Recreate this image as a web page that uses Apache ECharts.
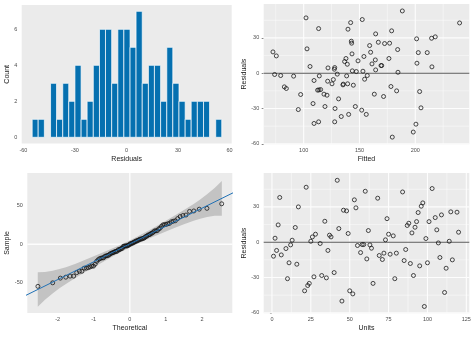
<!DOCTYPE html>
<html><head><meta charset="utf-8">
<script src="https://cdn.jsdelivr.net/npm/echarts@6/dist/echarts.min.js"></script>
<style>html,body{margin:0;padding:0;background:#fff}#c{width:474px;height:338px}</style>
</head><body><div id="c"></div>
<script>
// ---------- data ----------
const histBinEdges = [-54.9,-51.4,-47.8,-44.2,-40.7,-37.1,-33.6,-30.0,-26.4,-22.9,-19.3,-15.7,-12.2,-8.6,-5.0,-1.5,2.1,5.6,9.2,12.8,16.3,19.9,23.5,27.0,30.6,34.2,37.7,41.3,44.9,48.4,52.0,55.5];
const histCounts = [1,1,0,3,1,3,2,4,1,2,4,6,6,3,6,6,5,7,3,4,4,2,5,3,2,1,2,2,2,0,1];

const fittedX = [72.5,74,75.5,79.4,82.7,84.5,91,95.2,97.3,102.1,103,105.7,108.4,109.3,109.3,113.4,112.5,113.7,115.2,113.4,114,118.2,119.1,120.9,121.5,121.8,125.4,126.6,127.5,127.8,128.1,127.8,130.1,131.3,133.7,135.2,135.5,136.7,137.9,138.5,139.1,139.7,139.4,140.3,142.1,142.7,143,143.3,143.6,144.5,146.3,147.2,148.7,152,152.5,153.1,154,154.6,156.1,157,159.1,160,161.2,163.3,164.2,164.5,164.5,166.9,169.3,169.9,171.6,172.5,176.4,177,178.2,178.8,179.4,183.3,184.2,184.5,188.4,198.2,200.6,201.2,201.5,202.7,203.9,205.1,210.7,214.6,214.9,217.9,239.7];
const fittedResid = [18.1,-1.1,14.7,-2,-11.6,-13,-2.5,-30.9,-18.1,47,20.7,5.7,-25.8,-6.2,-42.7,37.9,-14.4,-14.2,-13.9,-41.3,-2.3,-17.8,-28.3,-18.7,-6.8,4.5,-9,-5.4,3.4,4.8,-30,-41.3,-0.8,-21.8,-36.8,-9.9,-9.3,9.9,12.5,-2.3,7.6,37.4,-9,-35,43,27.2,25.5,16.4,2,-10.2,-28.3,1.4,10.5,-31.4,45.6,1.7,14.2,-5.1,-35,-2,23.5,17.8,7.9,-17.8,11.3,33.4,2.8,26.3,6.5,6.5,-19.8,25.2,12.5,25.5,-11.3,36,-54.3,-15,20.1,0.8,52.9,-50,-43.3,29.2,8.5,17.5,-15.6,-29.4,17.5,29.7,5.4,30.9,42.7];

const units = [1,2,3,4,5,6,9,10,11,12,13,15,16,17,21,22,23,24,25,26,27,28,31,32,34,35,36,37,38,40,42,43,45,46,48,49,50,52,53,54,55,57,58,59,60,61,62,63,64,65,68,69,71,72,73,74,75,76,78,79,80,84,85,86,87,88,89,90,91,92,93,94,95,96,97,98,99,100,101,103,105,106,107,108,109,111,112,114,115,116,119,120];
const unitResid = [-11.9,3.4,-7,14.7,38,-10.8,-5.4,-31,-17.5,-2.3,1.7,12.5,-18.7,30,-41.3,46.7,-36.8,-35,0.8,4.5,-29.4,6.8,-1.1,-28.3,17.8,-30.3,-7,6,4.5,-25.8,52.6,11.6,-50,27.2,26.6,7.4,-41.3,-43.9,36,29.2,-2.8,-8.8,-2,-2,43.3,-14.2,9.9,-2.3,-5.1,-35,37.4,-11.3,-14.7,-9.3,2,20,6.8,-10.2,5.4,-31,-9.3,42.7,-15.6,-6.2,14.2,16.1,-18.1,7.9,-28.3,12.7,17.5,25.2,-20.1,30.6,33.4,-54.6,3.1,-17.5,17.5,45.6,20.9,10.5,-0.6,-13,23.2,-42.7,-22.1,0.8,25.8,-15,25.5,8.5];

const qqTheoretical = [-2.546,-2.137,-1.924,-1.774,-1.655,-1.556,-1.471,-1.395,-1.327,-1.263,-1.205,-1.150,-1.099,-1.051,-1.005,-0.960,-0.918,-0.877,-0.838,-0.800,-0.763,-0.727,-0.692,-0.657,-0.624,-0.591,-0.559,-0.528,-0.496,-0.466,-0.436,-0.406,-0.377,-0.347,-0.319,-0.290,-0.262,-0.234,-0.206,-0.178,-0.151,-0.123,-0.096,-0.068,-0.041,-0.014,
  0.014,0.041,0.068,0.096,0.123,0.151,0.178,0.206,0.234,0.262,0.290,0.319,0.347,0.377,0.406,0.436,0.466,0.496,0.528,0.559,0.591,0.624,0.657,0.692,0.727,0.763,0.800,0.838,0.877,0.918,0.960,1.005,1.051,1.099,1.150,1.205,1.263,1.327,1.395,1.471,1.556,1.655,1.774,1.924,2.137,2.546];
const qqSample = unitResid.slice().sort((a, b) => a - b);
const qqBandX = [-2.55,-2.35,-2.14,-1.95,-1.77,-1.5,-1.2,-0.9,-0.6,-0.3,0,0.3,0.6,0.9,1.2,1.5,1.77,1.95,2.14,2.35,2.55];
const qqBandLower = [-81.2,-72.0,-64.0,-57.2,-51.5,-43.4,-35.1,-27.1,-19.0,-11.4,-4.1,2.6,8.8,14.7,20.5,26.2,30.7,33.2,35.4,37.0,37.2];
const qqBandUpper = [-36.2,-36.0,-34.4,-32.2,-29.7,-25.2,-19.5,-13.7,-7.8,-1.6,5.1,12.4,20.0,28.1,36.1,44.4,52.5,58.2,65.0,73.0,82.2];
const qqLineX = [-3, 3];
const qqLineY = [-69.1, 70.1];

const histXTicks = [-60,-30,0,30,60];
const histYTicks = [0,2,4,6];
const residTicks = [-60,-30,0,30];
const residMinor = [-45,-15,15,45];
const fittedTicks = [100,150,200];
const fittedMinor = [75,125,175,225];
const qqXTicks = [-2,-1,0,1,2];
const qqYTicks = [-50,0,50];
const unitTicks = [0,25,50,75,100,125];
const unitMinor = [12.5,37.5,62.5,87.5,112.5];

// ---------- styling / layout ----------
const FONT = '"Liberation Sans", Arial, Helvetica, sans-serif';
const PANEL_BG = '#EBEBEB';
const GRIDLINE = '#fdfdfd';
// axis limits [xmin, xmax, ymin, ymax] per panel
const LIM = [
  [-61, 61.3, -0.35, 7.35],
  [64.2, 248.4, -60.4, 58.8],
  [-2.84, 2.84, -89.2, 92.6],
  [-5.3, 126.9, -60.4, 58.8]
];

function grid(left, top, width, height) {
  return {left, top, width, height, show: false, containLabel: false};
}
function axis(gi, isY, ticks, name, nameGap) {
  const L = LIM[gi];
  return {
    type: 'value', gridIndex: gi, min: isY ? L[2] : L[0], max: isY ? L[3] : L[1],
    name, nameLocation: 'middle', nameGap,
    nameTextStyle: {fontSize: 7, color: '#1a1a1a', fontFamily: FONT},
    axisLine: {show: false},
    axisTick: {show: true, length: 2, customValues: ticks, lineStyle: {color: '#333', width: 0.6}},
    axisLabel: {fontSize: 5.5, color: '#4d4d4d', fontFamily: FONT, margin: isY ? 4.5 : 3.5, customValues: ticks},
    splitLine: {show: false}, minorSplitLine: {show: false}
  };
}
// panel background drawn as a series, lowest layer
function panelBg(gi) {
  return {
    type: 'custom', xAxisIndex: gi, yAxisIndex: gi, z: 1, silent: true,
    data: [[LIM[gi][0], LIM[gi][2]]], encode: {x: 0, y: 1},
    renderItem: (params) => {
      const cs = params.coordSys;
      return {type: 'rect', shape: {x: cs.x, y: cs.y, width: cs.width, height: cs.height}, style: {fill: PANEL_BG}};
    }
  };
}
// one line series per reference/grid line
function refLines(gi, values, dir, color, width, z) {
  const L = LIM[gi];
  return values.map(v => ({
    type: 'line', xAxisIndex: gi, yAxisIndex: gi, z, silent: true, clip: true,
    showSymbol: false, symbol: 'none',
    data: dir === 'v' ? [[v, L[2]], [v, L[3]]] : [[L[0], v], [L[1], v]],
    lineStyle: {color, width, opacity: 1}
  }));
}
function points(gi, xs, ys) {
  return {
    type: 'scatter', xAxisIndex: gi, yAxisIndex: gi, z: 20, silent: true,
    data: xs.map((x, i) => [x, ys[i]]),
    symbol: 'circle', symbolSize: 4,
    itemStyle: {color: 'rgba(0,0,0,0)', borderColor: '#111', borderWidth: 0.95}
  };
}

const series = [panelBg(0), panelBg(1), panelBg(2), panelBg(3)];
// histogram
series.push({
  type: 'custom', xAxisIndex: 0, yAxisIndex: 0, z: 12, silent: true,
  data: histCounts.map((c, i) => [histBinEdges[i], histBinEdges[i + 1], c]),
  encode: {x: [0, 1], y: 2},
  renderItem: (params, api) => {
    const c = api.value(2);
    if (!c) return null;
    const p0 = api.coord([api.value(0), c]);
    const p1 = api.coord([api.value(1), 0]);
    return {type: 'rect', shape: {x: p0[0], y: p0[1], width: p1[0] - p0[0], height: p1[1] - p0[1]},
      style: {fill: '#0570B0', stroke: '#ffffff', lineWidth: 0.7}};
  }
});
// fitted panel
series.push(...refLines(1, fittedMinor, 'v', GRIDLINE, 0.5, 10));
series.push(...refLines(1, residMinor, 'h', GRIDLINE, 0.5, 10));
series.push(...refLines(1, fittedTicks, 'v', GRIDLINE, 1.1, 11));
series.push(...refLines(1, residTicks, 'h', GRIDLINE, 1.1, 11));
series.push(...refLines(1, [0], 'h', '#595959', 1.1, 12));
series.push(points(1, fittedX, fittedResid));
// qq panel
series.push(...refLines(2, [0], 'v', GRIDLINE, 1.4, 10));
series.push(...refLines(2, [0], 'h', GRIDLINE, 1.4, 10));
series.push({
  type: 'custom', xAxisIndex: 2, yAxisIndex: 2, z: 12, silent: true,
  data: [[0, 0]], encode: {x: 0, y: 1},
  renderItem: (params, api) => {
    const pts = [];
    qqBandX.forEach((x, i) => pts.push(api.coord([x, qqBandUpper[i]])));
    for (let i = qqBandX.length - 1; i >= 0; i--) pts.push(api.coord([qqBandX[i], qqBandLower[i]]));
    return {type: 'polygon', shape: {points: pts}, style: {fill: '#c3c3c3'}};
  }
});
series.push(points(2, qqTheoretical, qqSample));
series.push({
  type: 'line', xAxisIndex: 2, yAxisIndex: 2, z: 22, silent: true, clip: true,
  data: qqLineX.map((x, i) => [x, qqLineY[i]]), showSymbol: false, symbol: 'none',
  lineStyle: {color: '#2171B5', width: 1}
});
// units panel
series.push(...refLines(3, unitMinor, 'v', GRIDLINE, 0.5, 10));
series.push(...refLines(3, residMinor, 'h', GRIDLINE, 0.5, 10));
series.push(...refLines(3, unitTicks, 'v', GRIDLINE, 1.1, 11));
series.push(...refLines(3, residTicks, 'h', GRIDLINE, 1.1, 11));
series.push(...refLines(3, [0], 'h', '#595959', 1.1, 12));
series.push(points(3, units, unitResid));

const chart = echarts.init(document.getElementById('c'), null, {renderer: 'canvas'});
chart.setOption({
  animation: false,
  backgroundColor: '#ffffff',
  textStyle: {fontFamily: FONT},
  grid: [
    grid(21.7, 5, 210, 138.6),
    grid(263.7, 4, 205.6, 140.3),
    grid(27.3, 173, 205, 140),
    grid(263.7, 173, 205.6, 140.3)
  ],
  xAxis: [
    axis(0, false, histXTicks, 'Residuals', 11.5),
    axis(1, false, fittedTicks, 'Fitted', 11.5),
    axis(2, false, qqXTicks, 'Theoretical', 11.5),
    axis(3, false, unitTicks, 'Units', 11.5)
  ],
  yAxis: [
    axis(0, true, histYTicks, 'Count', 11),
    axis(1, true, residTicks, 'Residuals', 16),
    axis(2, true, qqYTicks, 'Sample', 16.5),
    axis(3, true, residTicks, 'Residuals', 16)
  ],
  series
});
</script></body></html>
